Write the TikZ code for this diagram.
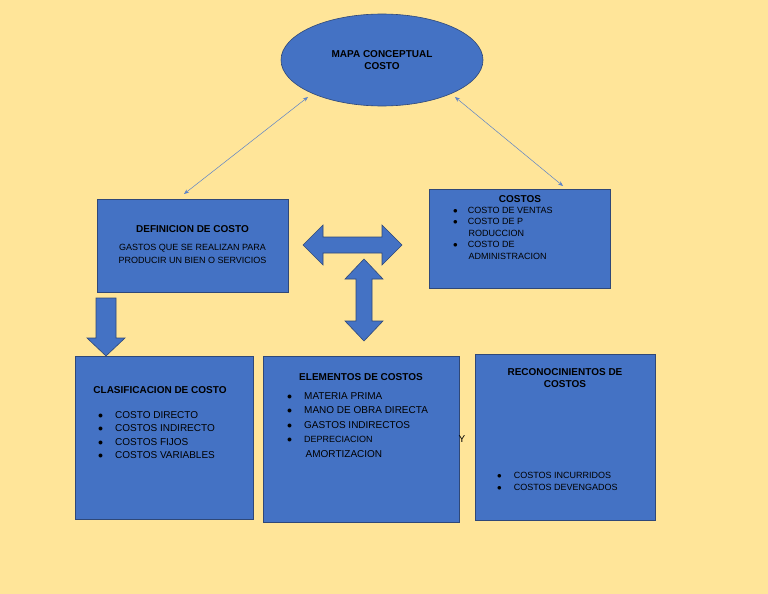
\documentclass[tikz,border=0pt]{standalone}
\usepackage{fontspec}
\setmainfont{Liberation Sans}
\usetikzlibrary{shapes.geometric,arrows.meta}
\definecolor{bg}{RGB}{255,229,153}
\definecolor{bx}{RGB}{68,114,196}
\definecolor{bd}{RGB}{47,72,120}
\definecolor{ln}{RGB}{91,130,200}
\begin{document}
\begin{tikzpicture}[x=1pt,y=-1pt,
 box/.style={draw=bd,fill=bx,line width=0.6pt,inner sep=0pt},
 big/.style={draw=bd,fill=bx,line width=0.6pt,line join=miter},
 t/.style={font=\fontsize{10}{11.5}\selectfont,align=left,anchor=north west,inner sep=0pt},
 tb/.style={font=\bfseries\fontsize{10}{11.5}\selectfont,align=center,inner sep=0pt},
 con/.style={draw=ln,line width=0.5pt,{Stealth[length=5pt,width=4pt]}-{Stealth[length=5pt,width=4pt]}}]
\fill[bg] (0,0) rectangle (768,594);
\useasboundingbox (0,0) rectangle (768,594);
\node[box,ellipse,minimum width=202,minimum height=92] (m) at (382,60) {};
\node[tb] at (382,60) {MAPA CONCEPTUAL\\COSTO};
\draw[box] (97,199) rectangle (288,292);
\node[tb] (d) at (192.5,229) {DEFINICION DE COSTO};
\node[t,anchor=north,align=center,font=\fontsize{9}{13}\selectfont] (dt) at (192.5,244) {GASTOS QUE SE REALIZAN PARA\\PRODUCIR UN BIEN O SERVICIOS};
\draw[box] (429,189) rectangle (610,288);
\node[tb] (c) at (520,199) {COSTOS};
\node[t,font=\fontsize{9}{11.5}\selectfont] (ct) at (453,207) {$\bullet$\hspace{10pt}COSTO DE VENTAS\\$\bullet$\hspace{10pt}COSTO DE P\\\hspace{15.5pt}RODUCCION\\$\bullet$\hspace{10pt}COSTO DE\\\hspace{15.5pt}ADMINISTRACION};
\draw[box] (75,356) rectangle (253,519);
\node[tb] (cl) at (160,390) {CLASIFICACION DE COSTO};
\node[t,font=\fontsize{10}{13.5}\selectfont] (clt) at (98,411) {$\bullet$\hspace{12pt}COSTO DIRECTO\\$\bullet$\hspace{12pt}COSTOS INDIRECTO\\$\bullet$\hspace{12pt}COSTOS FIJOS\\$\bullet$\hspace{12pt}COSTOS VARIABLES};
\draw[box] (263,356) rectangle (459,522);
\node[tb] (e) at (361,377) {ELEMENTOS DE COSTOS};
\node[t,font=\fontsize{10}{14.5}\selectfont] (et) at (287,392) {$\bullet$\hspace{12pt}MATERIA PRIMA\\$\bullet$\hspace{12pt}MANO DE OBRA DIRECTA\\$\bullet$\hspace{12pt}GASTOS INDIRECTOS\\$\bullet$\hspace{12pt}{\fontsize{9}{14.5}\selectfont DEPRECIACION}\hspace{86pt}Y\\\hspace{18.5pt}AMORTIZACION};
\draw[box] (475,354) rectangle (655,520);
\node[tb] (r) at (565,378) {RECONOCINIENTOS DE\\COSTOS};
\node[t,font=\fontsize{9}{12.5}\selectfont] (rt) at (497,472) {$\bullet$\hspace{12pt}COSTOS INCURRIDOS\\$\bullet$\hspace{12pt}COSTOS DEVENGADOS};
\draw[big] (303,245)--(323,225)--(323,237)--(382,237)--(382,225)--(402,245)--(382,265)--(382,253)--(323,253)--(323,265)--cycle;
\draw[big] (364,259)--(383,279)--(372,279)--(372,321)--(383,321)--(364,341)--(345,321)--(356,321)--(356,279)--(345,279)--cycle;
\draw[big] (96,298)--(116,298)--(116,338)--(125,338)--(106,356)--(87,338)--(96,338)--cycle;
\coordinate (a1) at (308,97); \coordinate (a2) at (184,194);
\coordinate (b1) at (455,97); \coordinate (b2) at (563,186);
\draw[con] (a1)--(a2);
\draw[con] (b1)--(b2);
\end{tikzpicture}
\end{document}
